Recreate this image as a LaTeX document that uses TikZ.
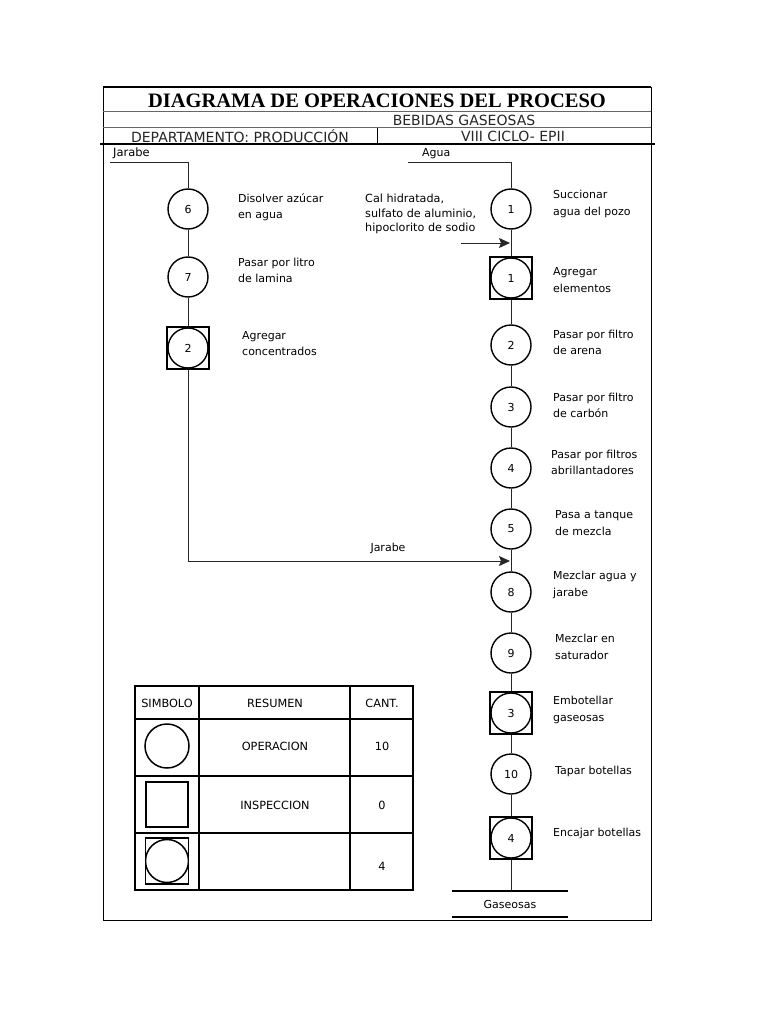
\documentclass[tikz,border=0pt]{standalone}
\usepackage{fontspec}
\setmainfont{DejaVu Sans}
\newfontfamily\titlefont{Liberation Serif}
\usetikzlibrary{arrows.meta}
\begin{document}
\begin{tikzpicture}[x=1pt,y=-1pt,
  op/.style={circle,draw,line width=1.4pt,minimum size=40pt,inner sep=0pt,font=\fontsize{11}{12}\selectfont},
  opin/.style={rectangle,draw,line width=1.6pt,minimum size=42pt,inner sep=0pt,font=\fontsize{11}{12}\selectfont,
     path picture={\draw[line width=1.4pt] (path picture bounding box.center) circle (20pt);}},
  lbl/.style={anchor=west,align=left,inner sep=0pt,font=\fontsize{11}{16.5}\selectfont},
  chem/.style={anchor=west,align=left,inner sep=0pt,font=\fontsize{11.2}{14.5}\selectfont},
  flow/.style={line width=1pt,draw=black!85},
  arr/.style={flow,-{Stealth[length=11pt,width=10pt,inset=2pt]}},
  head/.style={inner sep=0pt,font=\fontsize{14}{16}\selectfont,text=black!85},
  tab/.style={inner sep=0pt,font=\fontsize{11.3}{12}\selectfont},
  tline/.style={line width=2pt},
  bar/.style={line width=2pt}
]
\useasboundingbox[fill=white] (0,0) rectangle (768,1024);

% frame and header
\draw[line width=0.8pt] (103,87) rectangle (651,920);
\draw[line width=2pt] (103,87) -- (651,87);
\draw[line width=1pt,draw=black!60] (103,112) -- (651,112);
\draw[line width=1pt,draw=black!60] (103,128) -- (651,128);
\draw[line width=2pt] (100,144) -- (655,144);
\draw[line width=0.8pt] (377,128) -- (377,144);
\node[inner sep=0pt,font=\titlefont\bfseries\fontsize{20.5}{22}\selectfont] (title) at (377,100.5) {DIAGRAMA DE OPERACIONES DEL PROCESO};
\node[head] (sub) at (464,120) {BEBIDAS GASEOSAS};
\node[head] (dep) at (240,136) {DEPARTAMENTO: PRODUCCIÓN};
\node[head] (cic) at (513,136) {VIII CICLO- EPII};

% left column
\node[lbl,font=\fontsize{11.5}{13}\selectfont] (tjar) at (113,153.5) {Jarabe};
\coordinate (jstart) at (110,163);
\node[op] (j6) at (188,209) {6};
\node[op] (j7) at (188,277) {7};
\node[opin] (c2) at (188,348) {2};
\draw[flow] (jstart) -| (j6);
\draw[flow] (j6) -- (j7);
\draw[flow] (j7) -- (c2);
\node[lbl] (l6) at (238,207) {Disolver azúcar\\en agua};
\node[lbl] (l7) at (238,270.5) {Pasar por litro\\de lamina};
\node[lbl] (lc2) at (242,343.5) {Agregar\\concentrados};

% right column
\node[lbl] (tagua) at (422,154) {Agua};
\coordinate (astart) at (408,163);
\node[op] (a1) at (511,209) {1};
\node[opin] (e1) at (511,278) {1};
\node[op] (a2) at (511,345) {2};
\node[op] (a3) at (511,407) {3};
\node[op] (a4) at (511,468) {4};
\node[op] (a5) at (511,529) {5};
\node[op] (a8) at (511,592) {8};
\node[op] (a9) at (511,653) {9};
\node[opin] (e3) at (511,713) {3};
\node[op] (a10) at (511,774) {10};
\node[opin] (e4) at (511,838) {4};
\coordinate (aend) at (511,891);
\draw[flow] (astart) -| (a1);
\draw[flow] (a1) -- (e1);
\draw[flow] (e1) -- (a2);
\draw[flow] (a2) -- (a3);
\draw[flow] (a3) -- (a4);
\draw[flow] (a4) -- (a5);
\draw[flow] (a5) -- (a8);
\draw[flow] (a8) -- (a9);
\draw[flow] (a9) -- (e3);
\draw[flow] (e3) -- (a10);
\draw[flow] (a10) -- (e4);
\draw[flow] (e4) -- (aend);

% chemicals input
\node[chem] (tchem) at (365,214) {Cal hidratada,\\sulfato de aluminio,\\hipoclorito de sodio};
\coordinate (chemstart) at (461,243);
\coordinate (chemend) at (510,243);
\draw[arr] (chemstart) -- (chemend);

% syrup joins
\coordinate (jend) at (510,561);
\draw[arr] (c2) |- (jend);
\node[lbl,anchor=center] (tjar2) at (388,548) {Jarabe};

% right labels
\node[lbl] (r1) at (553,204) {Succionar\\agua del pozo};
\node[lbl] (re1) at (553,280) {Agregar\\elementos};
\node[lbl] (r2) at (553,342.5) {Pasar por filtro\\de arena};
\node[lbl] (r3) at (553,405.5) {Pasar por filtro\\ de carbón};
\node[lbl] (r4) at (551,462.5) {Pasar por filtros\\abrillantadores};
\node[lbl] (r5) at (555,523) {Pasa a tanque\\de mezcla};
\node[lbl] (r8) at (553,585) {Mezclar agua y\\jarabe};
\node[lbl] (r9) at (555,647) {Mezclar en\\saturador};
\node[lbl] (re3) at (553,710) {Embotellar\\gaseosas};
\node[lbl] (r10) at (555,771) {Tapar botellas};
\node[lbl] (re4) at (553,833) {Encajar botellas};

% product
\draw[bar] (452,891) -- (568,891);
\draw[bar] (452,917) -- (568,917);
\node[lbl,anchor=center] (tgas) at (510,904) {Gaseosas};

% summary table
\draw[tline] (135,686) rectangle (413,890);
\draw[tline] (199,686) -- (199,890);
\draw[tline] (350,686) -- (350,890);
\draw[tline] (135,719) -- (413,719);
\draw[tline] (135,776) -- (413,776);
\draw[tline] (135,833) -- (413,833);
\node[tab] (hs) at (167,703) {SIMBOLO};
\node[tab] (hr) at (275,703) {RESUMEN};
\node[tab] (hc) at (382,703) {CANT.};
\node[circle,draw,line width=1.5pt,minimum size=44pt,inner sep=0pt] (sop) at (167,746) {};
\node[tab] (top) at (275,746) {OPERACION};
\node[tab] (cop) at (382,746) {10};
\node[rectangle,draw,line width=1.8pt,minimum width=42pt,minimum height=45pt,inner sep=0pt] (sin) at (167,804.5) {};
\node[tab] (tin) at (275,805) {INSPECCION};
\node[tab] (cin) at (382,805) {0};
\node[rectangle,draw,line width=1.8pt,minimum width=43pt,minimum height=46pt,inner sep=0pt,
  path picture={\draw[line width=1.5pt] (path picture bounding box.center) circle (21.5pt);}] (scb) at (167,861) {};
\node[tab] (ccb) at (382,866) {4};
\end{tikzpicture}
\end{document}
